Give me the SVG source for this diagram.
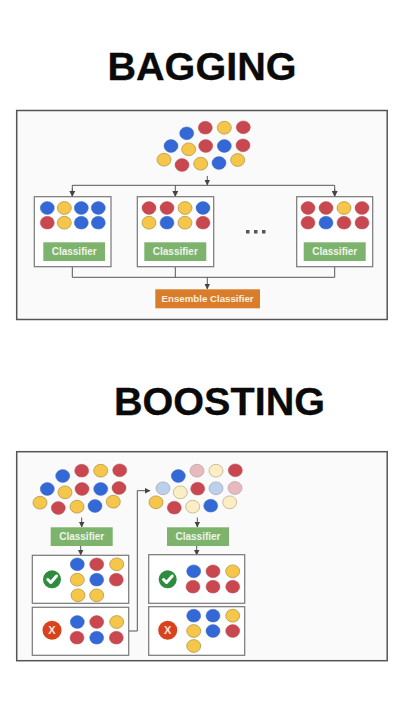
<svg xmlns="http://www.w3.org/2000/svg" width="405" height="720" viewBox="0 0 405 720">
<style>
text{font-family:"Liberation Sans",Arial,sans-serif;font-weight:700}
.title{font-size:39.6px;fill:#0a0a0a;text-anchor:middle;stroke:#0a0a0a;stroke-width:.3}
.panel{fill:#fafafa;stroke:#555;stroke-width:1.5}
.box{fill:#fff;stroke:#777;stroke-width:1.2}
.clf{fill:#7db36d}
.lbl{font-size:10px;fill:#eef5ea;text-anchor:middle}
.ens{fill:#d97d2b}
.lbl2{font-size:9.7px;fill:#fbeedd;text-anchor:middle}
.c{fill:none;stroke:#555;stroke-width:1}
.b{fill:#3368d6;stroke:#3f6bb8;stroke-width:.5}
.r{fill:#c9474f;stroke:#b5505a;stroke-width:.5}
.y{fill:#f5c64a;stroke:#a89040;stroke-width:.7}
.pb{fill:#bcd0ee;stroke:#9a9a9a;stroke-width:.6}
.py{fill:#fbeec4;stroke:#a89a70;stroke-width:.6}
.pr{fill:#e8b9bf;stroke:#a99;stroke-width:.6}
.ok{fill:#2f8c3f}
.no{fill:#d8431d}
.mark{fill:none;stroke:#fff;stroke-width:3;stroke-linecap:round;stroke-linejoin:round}
.x{font-size:11px;fill:#fbe4dc;text-anchor:middle}
.dots{fill:#555}
</style>
<defs>
<marker id="a" viewBox="0 0 6 6" refX="5.5" refY="3" markerWidth="6" markerHeight="6" orient="auto" markerUnits="userSpaceOnUse"><path d="M0 0L6 3L0 6Z" fill="#444"/></marker>
<ellipse id="d" rx="7" ry="6.4"/>
</defs>
<rect width="405" height="720" fill="#fff"/>
<text class="title" x="202" y="80">BAGGING</text>
<text class="title" x="219.500" y="415">BOOSTING</text>
<rect class="panel" x="16.700" y="110.500" width="370.500" height="209"/>
<rect class="panel" x="16.700" y="451.700" width="370.500" height="209"/>
<g id="connectors">
<path class="c" d="M207.300 176V185" marker-end="url(#a)"/>
<path class="c" d="M72.300 196.500V185.300H334.700V196.500" />
<path class="c" d="M72.300 189V196.500" marker-end="url(#a)"/>
<path class="c" d="M175.300 185.300V196.500" marker-end="url(#a)"/>
<path class="c" d="M334.700 189V196.500" marker-end="url(#a)"/>
<path class="c" d="M72.300 267V277.300H334.700V267M175.300 267V277.300"/>
<path class="c" d="M207.300 277.300V289" marker-end="url(#a)"/>
<path class="c" d="M81.700 517.500V527" marker-end="url(#a)"/>
<path class="c" d="M80.700 546V555" marker-end="url(#a)"/>
<path class="c" d="M197.300 517.500V527" marker-end="url(#a)"/>
<path class="c" d="M196.700 546V555" marker-end="url(#a)"/>
<path class="c" d="M128.700 631H137.300V490.700H150" marker-end="url(#a)"/>
</g>
<g id="bag-data">
<use href="#d" class="b" x="186.700" y="133.300"/><use href="#d" class="r" x="205.300" y="127.700"/><use href="#d" class="y" x="224.300" y="127.700"/><use href="#d" class="r" x="243.300" y="127.300"/>
<use href="#d" class="b" x="171" y="146"/><use href="#d" class="y" x="188.700" y="149.300"/><use href="#d" class="r" x="205.700" y="146"/><use href="#d" class="b" x="224.300" y="146"/><use href="#d" class="r" x="243" y="145.300"/>
<use href="#d" class="y" x="164" y="159.700"/><use href="#d" class="r" x="182" y="165"/><use href="#d" class="y" x="200.700" y="163.700"/><use href="#d" class="b" x="219" y="163"/><use href="#d" class="y" x="237.700" y="160"/>
</g>
<g id="bag-1">
<rect class="box" x="34.300" y="196.700" width="76.700" height="70"/>
<use href="#d" class="b" x="47.300" y="208"/><use href="#d" class="y" x="64.300" y="208"/><use href="#d" class="b" x="81.300" y="208"/><use href="#d" class="b" x="98.300" y="208"/>
<use href="#d" class="r" x="47.300" y="222.700"/><use href="#d" class="y" x="64.300" y="222.700"/><use href="#d" class="b" x="81.300" y="222.700"/><use href="#d" class="b" x="98.300" y="222.700"/>
<rect class="clf" x="43.300" y="242.300" width="61.700" height="18.700"/><text class="lbl" x="74.200" y="255.400">Classifier</text>
</g>
<g id="bag-2">
<rect class="box" x="137.300" y="196.700" width="76.400" height="70"/>
<use href="#d" class="r" x="149" y="208"/><use href="#d" class="r" x="167" y="208"/><use href="#d" class="y" x="185" y="208"/><use href="#d" class="b" x="203" y="208"/>
<use href="#d" class="y" x="149" y="222.700"/><use href="#d" class="b" x="167" y="222.700"/><use href="#d" class="y" x="185" y="222.700"/><use href="#d" class="r" x="203" y="222.700"/>
<rect class="clf" x="144.300" y="242.300" width="62" height="18.700"/><text class="lbl" x="175.300" y="255.400">Classifier</text>
</g>
<g id="bag-dots" class="dots"><rect x="246" y="230" width="3.500" height="3.500"/><rect x="254" y="230" width="3.500" height="3.500"/><rect x="262" y="230" width="3.500" height="3.500"/></g>
<g id="bag-3">
<rect class="box" x="296.700" y="196.700" width="76" height="70"/>
<use href="#d" class="r" x="308" y="208"/><use href="#d" class="r" x="326" y="208"/><use href="#d" class="y" x="344" y="208"/><use href="#d" class="r" x="362" y="208"/>
<use href="#d" class="r" x="308" y="222.700"/><use href="#d" class="b" x="326" y="222.700"/><use href="#d" class="r" x="344" y="222.700"/><use href="#d" class="r" x="362" y="222.700"/>
<rect class="clf" x="303.700" y="242.300" width="62" height="18.700"/><text class="lbl" x="334.700" y="255.400">Classifier</text>
</g>
<g id="ensemble">
<rect class="ens" x="155.300" y="289.300" width="104.700" height="19"/><text class="lbl2" x="207.600" y="302.300">Ensemble Classifier</text>
</g>
<g id="boost-data-1">
<use href="#d" class="b" x="62.700" y="476"/><use href="#d" class="r" x="81.700" y="470.700"/><use href="#d" class="y" x="100.700" y="470.700"/><use href="#d" class="r" x="119.700" y="470.300"/>
<use href="#d" class="b" x="47.300" y="489"/><use href="#d" class="y" x="65" y="492.300"/><use href="#d" class="r" x="82" y="489"/><use href="#d" class="b" x="100.700" y="489"/><use href="#d" class="r" x="119" y="488"/>
<use href="#d" class="y" x="40" y="502.700"/><use href="#d" class="r" x="58.300" y="508"/><use href="#d" class="y" x="77" y="506.700"/><use href="#d" class="b" x="95" y="506"/><use href="#d" class="y" x="113.300" y="501.700"/>
</g>
<g id="boost-clf-1"><rect class="clf" x="50.700" y="527.300" width="62" height="18.700"/><text class="lbl" x="81.700" y="540.400">Classifier</text></g>
<g id="boost-ok-1">
<rect class="box" x="32.300" y="555.300" width="96.400" height="48"/>
<circle class="ok" cx="52" cy="579.300" r="9"/><path class="mark" d="M47.800 579.500L50.800 582.500L56.500 576"/>
<use href="#d" class="b" x="77.300" y="564.300"/><use href="#d" class="r" x="96.700" y="564.300"/><use href="#d" class="y" x="116.700" y="564.300"/>
<use href="#d" class="y" x="77.300" y="579.700"/><use href="#d" class="b" x="96.700" y="579.700"/><use href="#d" class="r" x="116.300" y="579.700"/>
<use href="#d" class="y" x="78" y="595.300"/><use href="#d" class="y" x="96.700" y="595.300"/>
</g>
<g id="boost-no-1">
<rect class="box" x="32.300" y="607.300" width="96.400" height="48"/>
<circle class="no" cx="52" cy="630.300" r="9.500"/><text class="x" x="52" y="634.300">X</text>
<use href="#d" class="b" x="77.300" y="622"/><use href="#d" class="r" x="96.700" y="622"/><use href="#d" class="y" x="116.700" y="622"/>
<use href="#d" class="r" x="77" y="637.700"/><use href="#d" class="b" x="96.700" y="637.700"/><use href="#d" class="r" x="116.300" y="637.700"/>
</g>
<g id="boost-data-2">
<use href="#d" class="b" x="178.300" y="476"/><use href="#d" class="pr" x="197" y="470.700"/><use href="#d" class="py" x="216" y="470.700"/><use href="#d" class="r" x="235.300" y="470.300"/>
<use href="#d" class="pb" x="163" y="488.300"/><use href="#d" class="py" x="180.300" y="492.300"/><use href="#d" class="r" x="197.700" y="488.700"/><use href="#d" class="pb" x="216" y="488.300"/><use href="#d" class="pr" x="235" y="488"/>
<use href="#d" class="y" x="156" y="502.300"/><use href="#d" class="r" x="174.300" y="507.700"/><use href="#d" class="py" x="192.700" y="506.700"/><use href="#d" class="b" x="210.700" y="505.700"/><use href="#d" class="py" x="229.700" y="502.300"/>
</g>
<g id="boost-clf-2"><rect class="clf" x="167" y="527.300" width="62" height="18.700"/><text class="lbl" x="198" y="540.400">Classifier</text></g>
<g id="boost-ok-2">
<rect class="box" x="148.700" y="554.700" width="96" height="48.600"/>
<circle class="ok" cx="167.700" cy="579.300" r="9"/><path class="mark" d="M163.500 579.500L166.500 582.500L172.200 576"/>
<use href="#d" class="b" x="193.700" y="571.300"/><use href="#d" class="r" x="213" y="571.300"/><use href="#d" class="y" x="232.700" y="571.300"/>
<use href="#d" class="r" x="193" y="586.700"/><use href="#d" class="r" x="213" y="586.700"/><use href="#d" class="r" x="232.700" y="586.700"/>
</g>
<g id="boost-no-2">
<rect class="box" x="148.700" y="606.700" width="96" height="48.600"/>
<circle class="no" cx="167.700" cy="630.300" r="9.500"/><text class="x" x="167.700" y="634.300">X</text>
<use href="#d" class="b" x="193.700" y="615.700"/><use href="#d" class="b" x="213" y="615.700"/><use href="#d" class="y" x="232.700" y="615.700"/>
<use href="#d" class="y" x="193.700" y="631"/><use href="#d" class="b" x="213" y="631"/><use href="#d" class="r" x="232.700" y="631"/>
<use href="#d" class="y" x="193.700" y="646"/>
</g>
</svg>
